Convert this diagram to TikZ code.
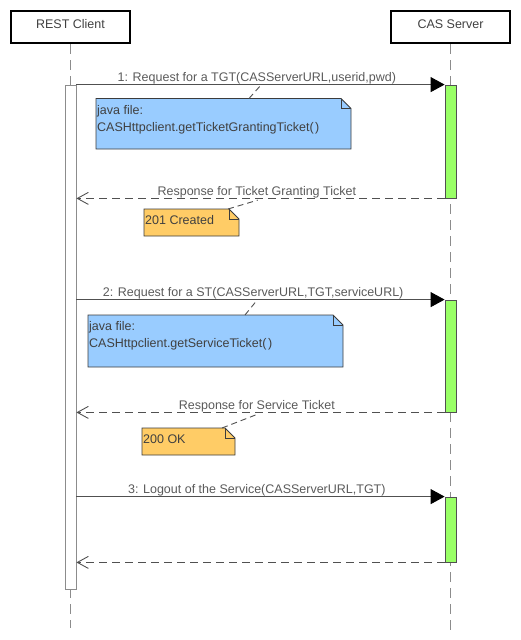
\documentclass[tikz,border=0pt]{standalone}
\usepackage{fontspec}
\setmainfont{Liberation Sans}
\usetikzlibrary{arrows.meta,positioning}

\definecolor{lifegrey}{HTML}{8C8C8C}
\definecolor{linegrey}{HTML}{505050}
\definecolor{labelgrey}{HTML}{5A5A5A}
\definecolor{namegrey}{HTML}{404040}
\definecolor{noteblue}{HTML}{99CCFF}
\definecolor{noteorange}{HTML}{FFCC66}
\definecolor{actgreen}{HTML}{99FF66}
\definecolor{notedraw}{HTML}{3C3C3C}

% note paper with folded corner: x1 y1 x2 y2 colour
\newcommand{\drawnote}[5]{%
	\filldraw[note,fill=#5] (#1,#2) -- (#3-10,#2) -- (#3,#2+10) -- (#3,#4) -- (#1,#4) -- cycle;
	\draw[note] (#3-10,#2) -- (#3-10,#2+10) -- (#3,#2+10);
}

\begin{document}
\begin{tikzpicture}[x=1pt,y=-1pt,font=\fontsize{12.5}{17}\selectfont]
			\tikzstyle{actor}=[draw=black,line width=2pt,minimum width=119pt,minimum height=32pt,text=namegrey,text height=9pt,text depth=7pt]
			\tikzstyle{lifeline}=[draw=lifegrey,line width=1.5pt,dash pattern=on 10pt off 6pt]
			\tikzstyle{clientbar}=[draw=lifegrey,fill=white,line width=0.8pt,minimum width=11pt,inner sep=0pt]
			\tikzstyle{serverbar}=[draw=linegrey,fill=actgreen,line width=0.8pt,minimum width=11pt,inner sep=0pt]
			\tikzstyle{msg}=[draw=linegrey,line width=0.9pt,-{Triangle[length=14pt,width=15pt,color=black]}]
			\tikzstyle{reply}=[draw=linegrey,line width=0.9pt,dash pattern=on 8pt off 5pt,-{Straight Barb[length=11pt,width=12pt]}]
			\tikzstyle{msglabel}=[anchor=base,text=labelgrey,yshift=3.3pt,inner sep=1pt]
			\tikzstyle{note}=[draw=notedraw,line width=0.8pt]
			\tikzstyle{notetext}=[anchor=north west,inner xsep=1pt,inner ysep=0pt,yshift=-6.5pt,align=left,text=namegrey]
			\tikzstyle{notelink}=[draw=linegrey,line width=0.9pt,dash pattern=on 6pt off 4pt]
			\useasboundingbox (0,0) rectangle (520,640);
			\node[actor] (rc) at (70.5,27) {REST Client};
			\node[actor] (cs) at (450.5,27) {CAS Server};
			\coordinate (rcend) at (70.5,628);
			\coordinate (csend) at (450.5,630);
			\draw[lifeline] (rc.south) -- (rcend);
			\draw[lifeline] (cs.south) -- (csend);
			\node[clientbar,minimum height=504pt] (cact) at (70.5,337) {};
			\node[serverbar,minimum height=113pt] (sact1) at (450.5,141.5) {};
			\node[serverbar,minimum height=112pt] (sact2) at (450.5,356) {};
			\node[serverbar,minimum height=65pt] (sact3) at (450.5,529.5) {};
			\draw[msg] (cact.east |- sact1.north) -- node[msglabel,pos=0.49] (m1) {1: Request for a TGT(CASServerURL,userid,pwd)} (sact1.north west);
			\draw[reply] (sact1.south west) -- node[msglabel,pos=0.51] (r1) {Response for Ticket Granting Ticket} (cact.east |- sact1.south);
			\draw[msg] (cact.east |- sact2.north) -- node[msglabel,pos=0.48] (m2) {2: Request for a ST(CASServerURL,TGT,serviceURL)} (sact2.north west);
			\draw[reply] (sact2.south west) -- node[msglabel,pos=0.51] (r2) {Response for Service Ticket} (cact.east |- sact2.south);
			\draw[msg] (cact.east |- sact3.north) -- node[msglabel,pos=0.49] (m3) {3: Logout of the Service(CASServerURL,TGT)} (sact3.north west);
			\draw[reply] (sact3.south west) -- (cact.east |- sact3.south);
			\drawnote{96}{98.5}{351}{149}{noteblue}
			\node[notetext] (n1) at (96,98.5) {java file:\\CASHttpclient.getTicketGrantingTicket(\kern1.5pt)};
			\draw[notelink] ([xshift=153pt,yshift=6.5pt]n1.north west) -- ([shift={(3,5)}]m1.base);
			\drawnote{144}{209}{239}{236}{noteorange}
			\node[notetext] (n2) at (144,209) {201 Created};
			\draw[notelink] ([xshift=84pt,yshift=6.5pt]n2.north west) -- ([shift={(1,5)}]r1.base);
			\drawnote{88}{315}{343}{367}{noteblue}
			\node[notetext] (n3) at (88,315) {java file:\\CASHttpclient.getServiceTicket(\kern1.5pt)};
			\draw[notelink] ([xshift=157pt,yshift=6.5pt]n3.north west) -- ([shift={(3,5)}]m2.base);
			\drawnote{142}{428}{235}{455}{noteorange}
			\node[notetext] (n4) at (142,428) {200 OK};
			\draw[notelink] ([xshift=80pt,yshift=6.5pt]n4.north west) -- ([shift={(1,5)}]r2.base);
\end{tikzpicture}
\end{document}
